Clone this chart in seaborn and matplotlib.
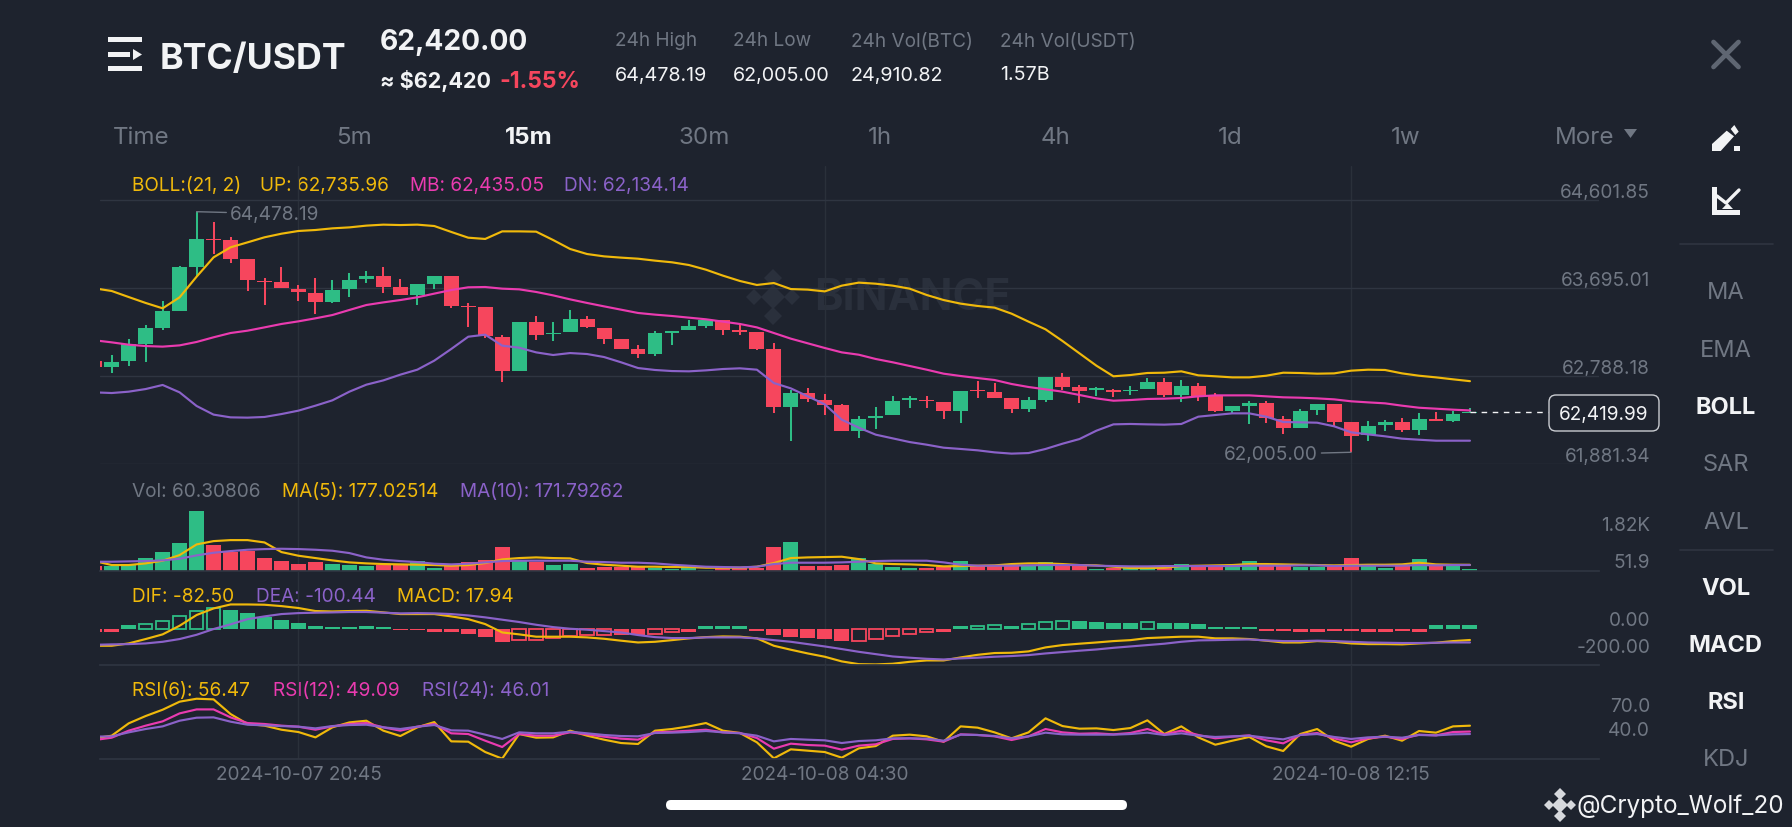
import numpy as np
import pandas as pd
import matplotlib
matplotlib.use("Agg")
import matplotlib.pyplot as plt
import seaborn as sns
from matplotlib.patches import FancyBboxPatch, Polygon, Rectangle

W, H = 1792, 828
BG = "#1e232e"
GRID = "#2f3541"
VGRID = "#2a303a"
GREEN = "#2ebd85"
RED = "#f6465d"
YELLOW = "#f0b90b"
PINK = "#ea3bb0"
PURPLE = "#8b62c9"
GREY = "#707783"
WHITE = "#f2f3f5"
TEXT_SIZE = 13.7

# candles, first one is cut off by the left edge
opens = [62940, 62882, 62943, 63115, 63283, 63457, 63910, 64194, 64191, 63988, 63769, 63752, 63687, 63642,
         63550, 63680, 63783, 63817, 63704, 63622, 63738, 63817, 63509, 63498, 63193, 62844, 63341, 63217,
         63238, 63375, 63286, 63166, 63063, 63019, 63231, 63259, 63306, 63365, 63259, 63245, 63063, 62467,
         62618, 62546, 62491, 62220, 62354, 62385, 62542, 62542, 62522, 62433, 62642, 62625, 62563, 62450,
         62546, 62779, 62673, 62649, 62645, 62631, 62652, 62731, 62597, 62686, 62583, 62433, 62481, 62508,
         62347, 62254, 62436, 62501, 62313, 62179, 62285, 62313, 62230, 62344, 62323, 62405]
highs = [62940, 63005, 63166, 63310, 63564, 63917, 64478, 64376, 64215, 63988, 63793, 63906, 63721, 63797,
         63773, 63851, 63869, 63906, 63783, 63735, 63817, 63817, 63543, 63498, 63211, 63341, 63409, 63341,
         63464, 63409, 63286, 63166, 63108, 63252, 63255, 63368, 63365, 63365, 63334, 63245, 63128, 62648,
         62662, 62604, 62501, 62378, 62467, 62580, 62580, 62583, 62522, 62638, 62734, 62717, 62563, 62573,
         62782, 62816, 62697, 62673, 62655, 62690, 62765, 62772, 62748, 62717, 62614, 62477, 62529, 62529,
         62374, 62450, 62501, 62501, 62313, 62330, 62340, 62357, 62405, 62419, 62426, 62457]
lows = [62885, 62820, 62888, 62936, 63262, 63457, 63821, 64043, 63951, 63666, 63522, 63690, 63564, 63426,
        63536, 63598, 63745, 63646, 63618, 63516, 63687, 63488, 63296, 63180, 62731, 62844, 63156, 63145,
        63238, 63282, 63121, 63067, 62978, 62998, 63108, 63259, 63282, 63214, 63214, 63053, 62409, 62117,
        62525, 62392, 62220, 62148, 62248, 62385, 62463, 62463, 62350, 62306, 62559, 62563, 62412, 62419,
        62522, 62649, 62515, 62580, 62577, 62597, 62652, 62573, 62525, 62532, 62422, 62402, 62296, 62306,
        62189, 62251, 62392, 62278, 62005, 62124, 62227, 62210, 62182, 62323, 62313, 62405]
closes = [62885, 62936, 63115, 63286, 63454, 63906, 64198, 64184, 63992, 63773, 63755, 63694, 63649, 63550,
          63677, 63779, 63817, 63707, 63622, 63735, 63817, 63512, 63495, 63197, 62844, 63341, 63214, 63235,
          63375, 63289, 63169, 63067, 63019, 63228, 63255, 63303, 63365, 63262, 63245, 63063, 62467, 62618,
          62549, 62494, 62220, 62344, 62381, 62532, 62559, 62529, 62433, 62638, 62631, 62566, 62453, 62542,
          62782, 62673, 62638, 62662, 62628, 62649, 62731, 62597, 62686, 62587, 62433, 62477, 62508, 62354,
          62254, 62433, 62501, 62316, 62176, 62278, 62313, 62230, 62344, 62326, 62398, 62420]

boll_up = [63690, 63663, 63601, 63540, 63485, 63598, 63810, 64009, 64112, 64163, 64215, 64252, 64280, 64290,
           64307, 64317, 64335, 64345, 64341, 64345, 64331, 64270, 64211, 64198, 64276, 64276, 64273, 64187,
           64095, 64043, 64019, 64006, 63995, 63975, 63958, 63930, 63882, 63821, 63766, 63725, 63745, 63683,
           63677, 63659, 63718, 63749, 63738, 63718, 63687, 63622, 63570, 63533, 63509, 63492, 63430, 63348,
           63269, 63149, 63022, 62895, 62786, 62799, 62820, 62823, 62837, 62796, 62786, 62775, 62775, 62792,
           62823, 62820, 62813, 62816, 62844, 62854, 62851, 62816, 62792, 62775, 62755, 62736]
boll_mb = [63156, 63135, 63111, 63097, 63091, 63104, 63139, 63187, 63231, 63255, 63289, 63324, 63351, 63382,
           63416, 63468, 63519, 63546, 63570, 63598, 63636, 63673, 63701, 63704, 63687, 63680, 63653, 63618,
           63577, 63540, 63505, 63471, 63437, 63420, 63406, 63389, 63372, 63348, 63324, 63289, 63231, 63173,
           63125, 63077, 63032, 63008, 62964, 62930, 62892, 62854, 62813, 62789, 62768, 62748, 62707, 62676,
           62652, 62628, 62594, 62559, 62535, 62542, 62553, 62556, 62563, 62580, 62590, 62590, 62590, 62580,
           62570, 62566, 62559, 62549, 62529, 62518, 62508, 62484, 62463, 62453, 62443, 62435]
boll_dn = [62621, 62614, 62628, 62655, 62697, 62621, 62481, 62392, 62364, 62361, 62368, 62398, 62433, 62484,
           62539, 62628, 62700, 62744, 62803, 62854, 62947, 63067, 63193, 63214, 63101, 63080, 63032, 63005,
           63025, 63015, 62984, 62930, 62871, 62851, 62840, 62837, 62847, 62861, 62868, 62854, 62717, 62662,
           62580, 62498, 62340, 62258, 62186, 62148, 62110, 62083, 62052, 62039, 62025, 62004, 61991, 61997,
           62039, 62093, 62141, 62227, 62292, 62296, 62292, 62289, 62296, 62371, 62388, 62405, 62405, 62371,
           62316, 62313, 62309, 62272, 62210, 62189, 62169, 62145, 62134, 62124, 62124, 62124]

volumes = [150, 150, 170, 390, 570, 820, 1800, 760, 560, 590, 390, 280, 200, 270, 210, 160, 140, 180, 190, 280,
           90, 170, 250, 320, 700, 330, 260, 180, 190, 90, 120, 120, 120, 80, 60, 80, 20, 80, 70, 90, 720, 860,
           140, 150, 180, 370, 200, 120, 90, 90, 120, 300, 140, 140, 130, 150, 250, 150, 160, 60, 70, 110, 90,
           90, 210, 150, 130, 120, 300, 140, 140, 120, 110, 140, 370, 130, 90, 150, 340, 140, 130, 60]
vol_ma5 = [290, 170, 170, 220, 300, 470, 790, 890, 920, 920, 850, 560, 450, 380, 310, 250, 220, 200, 190, 180,
           170, 150, 170, 230, 340, 380, 400, 380, 370, 230, 180, 150, 120, 120, 110, 110, 90, 90, 90, 120, 230,
           380, 400, 410, 420, 350, 220, 200, 190, 170, 130, 140, 150, 160, 200, 220, 220, 200, 170, 160, 120,
           80, 80, 90, 140, 150, 160, 170, 200, 200, 190, 180, 170, 160, 170, 180, 180, 190, 240, 190, 180, 177]
vol_ma10 = [270, 270, 280, 290, 310, 360, 460, 540, 590, 630, 650, 660, 650, 630, 600, 530, 400, 330, 290, 260,
            210, 190, 210, 250, 290, 300, 300, 300, 300, 270, 260, 240, 240, 220, 180, 150, 120, 110, 100, 120,
            200, 240, 240, 240, 250, 270, 290, 300, 300, 300, 250, 180, 150, 150, 150, 160, 170, 170, 170, 150,
            140, 130, 130, 140, 140, 140, 140, 140, 150, 150, 150, 160, 160, 140, 150, 150, 150, 150, 170, 160,
            170, 172]

macd_hist = [-22, -22, 24, 34, 56, 95, 131, 151, 139, 112, 85, 63, 39, 17, 15, 15, 22, 15, -12, -12, -22, -22,
             -36, -61, -97, -83, -83, -68, -56, -44, -44, -46, -49, -39, -27, -22, 22, 22, 22, -15, -46, -58,
             -70, -75, -87, -87, -75, -51, -39, -22, -22, 19, 22, 29, 17, 32, 49, 53, 53, 46, 44, 44, 51, 39,
             39, 32, 15, 15, 15, -15, -15, -24, -24, -15, -15, -24, -24, -15, -24, 27, 27, 27]
# bars drawn as outlines
hist_hollow = [2, 3, 4, 5, 6, 24, 25, 26, 27, 28, 29, 32, 33, 44, 45, 46, 47, 48, 51, 52, 54, 55, 56, 61]
dif = [-124, -124, -107, -75, -41, 22, 100, 148, 177, 177, 175, 165, 151, 129, 126, 129, 131, 119, 107, 107,
       107, 90, 70, 34, -27, -41, -58, -58, -58, -63, -73, -87, -100, -95, -83, -70, -61, -56, -58, -70, -124,
       -153, -180, -204, -238, -258, -260, -255, -241, -231, -231, -209, -190, -177, -175, -165, -136, -119,
       -109, -100, -90, -83, -68, -63, -58, -58, -70, -70, -75, -87, -100, -100, -90, -95, -107, -112, -112,
       -114, -107, -102, -90, -82]
dea = [-117, -114, -112, -107, -95, -75, -44, -2, 32, 70, 90, 107, 114, 117, 119, 122, 122, 117, 112, 114, 112,
       107, 97, 83, 66, 49, 29, 12, 0, -7, -17, -27, -46, -61, -68, -68, -63, -63, -63, -70, -83, -95, -112,
       -129, -148, -168, -185, -202, -211, -219, -224, -216, -211, -204, -199, -192, -180, -170, -160, -151,
       -139, -129, -119, -109, -95, -85, -83, -80, -78, -85, -90, -90, -87, -90, -95, -100, -102, -104, -104,
       -102, -100, -100]

rsi6 = [40.6, 43.9, 59.4, 68.6, 76.5, 86.6, 90.3, 89.5, 71.1, 58.6, 56.5, 51.4, 48.5, 41.8, 54.4, 60.6, 62.7,
        50.2, 43.5, 54.4, 61.0, 36.8, 36.4, 23.4, 15.1, 46.0, 41.4, 41.8, 50.2, 43.9, 38.9, 34.7, 33.5, 50.2,
        52.3, 55.6, 59.8, 50.2, 47.3, 35.6, 15.5, 26.8, 25.1, 23.4, 16.3, 28.0, 30.9, 43.9, 45.2, 43.1, 36.4,
        55.6, 54.0, 48.1, 40.6, 48.1, 65.7, 56.0, 52.7, 53.1, 51.0, 53.5, 63.2, 46.0, 55.6, 41.8, 32.6, 37.6,
        42.3, 30.6, 24.7, 46.0, 52.3, 37.6, 30.1, 39.8, 43.9, 37.6, 49.8, 47.7, 55.6, 56.47]
rsi12 = [38.5, 41.4, 50.2, 56.5, 61.9, 71.9, 76.9, 76.9, 66.9, 59.8, 58.6, 56.5, 55.2, 51.4, 55.6, 58.6, 59.8,
         54.4, 50.2, 55.2, 58.6, 46.9, 46.0, 37.6, 29.7, 46.0, 43.9, 43.9, 48.1, 45.6, 42.7, 40.2, 38.9, 48.1,
         48.9, 50.2, 51.4, 48.1, 47.3, 41.0, 27.6, 33.9, 32.2, 31.4, 26.4, 31.4, 33.1, 39.8, 40.6, 39.3, 36.4,
         45.6, 44.8, 43.1, 38.5, 43.1, 52.3, 48.1, 46.4, 46.9, 45.6, 47.3, 52.3, 45.6, 50.2, 44.8, 40.6, 42.7,
         44.3, 38.1, 34.3, 44.8, 47.3, 40.6, 35.6, 40.6, 42.7, 39.8, 45.2, 44.3, 48.5, 49.09]
rsi24 = [42.7, 43.1, 48.1, 52.3, 55.6, 62.7, 66.5, 66.9, 61.5, 57.7, 56.9, 56.0, 55.2, 53.1, 56.0, 57.3, 57.7,
         54.4, 52.3, 55.2, 57.3, 50.6, 50.2, 45.2, 39.8, 48.1, 46.9, 46.9, 48.9, 46.9, 44.8, 43.5, 43.1, 47.3,
         47.7, 48.5, 49.8, 48.1, 46.9, 43.9, 36.8, 39.8, 38.9, 38.1, 34.7, 37.2, 38.1, 40.6, 40.6, 40.2, 37.6,
         45.2, 44.8, 43.5, 40.6, 43.1, 47.7, 45.6, 45.2, 45.2, 45.2, 46.0, 47.7, 44.8, 46.9, 43.9, 42.3, 43.1,
         43.9, 41.4, 39.3, 44.8, 46.0, 42.3, 39.8, 41.8, 42.7, 41.4, 44.8, 44.3, 45.6, 46.01]

price_ticks = [64601.85, 63695.01, 62788.18, 61881.34]
date_ticks = [11, 42, 73]
date_labels = ["2024-10-07 20:45", "2024-10-08 04:30", "2024-10-08 12:15"]
intervals = ["5m", "15m", "30m", "1h", "4h", "1d", "1w"]
indicators = ["MA", "EMA", "BOLL", "SAR", "AVL", "VOL", "MACD", "RSI", "KDJ"]

sns.set_theme(style="dark", rc={
    "figure.facecolor": BG,
    "axes.facecolor": "none",
    "axes.edgecolor": GRID,
    "grid.color": GRID,
    "text.color": WHITE,
})
plt.rcParams["font.family"] = ["Inter", "DejaVu Sans"]

fig = plt.figure(figsize=(W / 100, H / 100), dpi=100)

# overlay in pixel coordinates for the app chrome, sits behind the panels
ui = fig.add_axes([0, 0, 1, 1], zorder=0)
ui.set_xlim(0, W)
ui.set_ylim(H, 0)
ui.axis("off")


def label(x, y, s, color=GREY, size=TEXT_SIZE, ha="left", weight="normal"):
    ui.text(x, y + 2.5, s, color=color, fontsize=size, ha=ha, va="center", fontweight=weight)


def panel(top, bottom):
    ax = fig.add_axes([100 / W, 1 - bottom / H, 1499 / W, (bottom - top) / H], zorder=1)
    ax.set_xlim(-0.689, 87.6)
    ax.set_xticks(date_ticks)
    ax.set_xticklabels([])
    ax.grid(True, axis="x", color=VGRID, linewidth=1)
    ax.grid(True, axis="y", color=GRID, linewidth=1)
    ax.tick_params(length=0, labelleft=False)
    for side in ("top", "left", "right"):
        ax.spines[side].set_visible(False)
    ax.spines["bottom"].set_color(GRID)
    ax.set_axisbelow(True)
    return ax


def draw_line(ax, x, y, color):
    sns.lineplot(x=x, y=y, color=color, linewidth=1.55, estimator=None, sort=False, legend=False, ax=ax)
    ax.set_xlabel("")
    ax.set_ylabel("")


df = pd.DataFrame({"open": opens, "high": highs, "low": lows, "close": closes})
df["x"] = np.arange(-1, len(df) - 1)
df["up"] = df["close"] >= df["open"]
df["color"] = np.where(df["up"], GREEN, RED)
xs = df["x"].to_numpy()

# price panel
ax_price = panel(167, 465.3)
ax_price.vlines(xs, df["low"], df["high"], colors=df["color"], linewidth=1.45, zorder=2)
ax_price.bar(xs, (df["close"] - df["open"]).abs(), bottom=df[["open", "close"]].min(axis=1),
             width=0.88, color=df["color"], linewidth=0, zorder=2)
draw_line(ax_price, xs, boll_up, YELLOW)
draw_line(ax_price, xs, boll_mb, PINK)
draw_line(ax_price, xs, boll_dn, PURPLE)
ax_price.set_ylim(61881.34, 64948)
ax_price.set_yticks(price_ticks)
ax_price.annotate("64,478.19", xy=(5, 64478.19), xytext=(33, 0), textcoords="offset pixels",
                  color=GREY, fontsize=TEXT_SIZE, va="center_baseline", ha="left",
                  arrowprops=dict(arrowstyle="-", color=GREY, linewidth=1, shrinkA=0, shrinkB=0))
ax_price.annotate("62,005.00", xy=(73, 62005), xytext=(-33, 0), textcoords="offset pixels",
                  color=GREY, fontsize=TEXT_SIZE, va="center_baseline", ha="right",
                  arrowprops=dict(arrowstyle="-", color=GREY, linewidth=1, shrinkA=0, shrinkB=0))
ax_price.plot([80, 84.6], [62420, 62420], color=WHITE, linewidth=1, linestyle=(0, (4, 4)))
ax_price.spines["bottom"].set_visible(False)

# volume panel
ax_vol = panel(465.3, 571.7)
ax_vol.bar(xs, volumes, width=0.88, color=df["color"], linewidth=0, zorder=2)
draw_line(ax_vol, xs, vol_ma5, YELLOW)
draw_line(ax_vol, xs, vol_ma10, PURPLE)
ax_vol.set_ylim(0, 3200)
ax_vol.set_yticks([])

# macd panel
ax_macd = panel(571.7, 665.7)
hist = np.array(macd_hist)
hollow = np.isin(xs, hist_hollow)
hist_colors = np.where(hist >= 0, GREEN, RED)
ax_macd.bar(xs[~hollow], hist[~hollow], width=0.88, color=hist_colors[~hollow], linewidth=0, zorder=2)
ax_macd.bar(xs[hollow], hist[hollow], width=0.8, facecolor="none", edgecolor=hist_colors[hollow],
            linewidth=1.3, zorder=2)
draw_line(ax_macd, xs, dif, YELLOW)
draw_line(ax_macd, xs, dea, PURPLE)
ax_macd.set_ylim(-262, 423)
ax_macd.set_yticks([])

# rsi panel
ax_rsi = panel(665.7, 760)
draw_line(ax_rsi, xs, rsi6, YELLOW)
draw_line(ax_rsi, xs, rsi12, PINK)
draw_line(ax_rsi, xs, rsi24, PURPLE)
ax_rsi.set_ylim(14.66, 133)
ax_rsi.set_yticks([])
ax_rsi.set_xticklabels(date_labels, color=GREY, fontsize=TEXT_SIZE)
ax_rsi.tick_params(axis="x", pad=4)

# right hand axis labels
for tick, y in zip(price_ticks, [191, 279, 367, 455]):
    label(1650, y, f"{tick:,.2f}", ha="right")
for text, y in [("1.82K", 524), ("51.9", 560.7), ("0.00", 619), ("-200.00", 645.7), ("70.0", 704.7), ("40.0", 729)]:
    label(1650, y, text, ha="right")

# current price tag
ui.add_patch(FancyBboxPatch((1549, 396), 110, 36, boxstyle="round,pad=0,rounding_size=7",
                            facecolor=BG, edgecolor="#c9ccd1", linewidth=1))
label(1604, 413, "62,419.99", color=WHITE, ha="center")

# indicator legends
for x, y, text, color in [
    (132, 183, "BOLL:(21, 2)", YELLOW), (260, 183, "UP: 62,735.96", YELLOW),
    (410, 183, "MB: 62,435.05", PINK), (564, 183, "DN: 62,134.14", PURPLE),
    (132, 490, "Vol: 60.30806", GREY), (282, 490, "MA(5): 177.02514", YELLOW),
    (460, 490, "MA(10): 171.79262", PURPLE),
    (132, 595, "DIF: -82.50", YELLOW), (256, 595, "DEA: -100.44", PURPLE), (397, 595, "MACD: 17.94", YELLOW),
    (132, 689, "RSI(6): 56.47", YELLOW), (273, 689, "RSI(12): 49.09", PINK), (422, 689, "RSI(24): 46.01", PURPLE),
]:
    label(x, y, text, color=color)

# header
for x, y, w, h in [(108, 38, 34, 5), (108, 53, 22, 5), (108, 67, 34, 5)]:
    ui.add_patch(Rectangle((x, y), w, h, color=WHITE, linewidth=0))
ui.add_patch(Polygon([(133, 50), (142, 55.5), (133, 61)], color=WHITE, linewidth=0))
label(160, 57, "BTC/USDT", color=WHITE, size=25.7, weight="bold")
label(380, 40, "62,420.00", color=WHITE, size=20.3, weight="bold")
label(380, 79, "≈ $62,420", color=WHITE, size=15.5, weight="bold")
label(499, 79, "-1.55%", color=RED, size=16.5, weight="bold")
for x, top, val in [(615, "24h High", "64,478.19"), (733, "24h Low", "62,005.00"),
                    (851, "24h Vol(BTC)", "24,910.82"), (1000, "24h Vol(USDT)", "1.57B")]:
    label(x, 39, top, size=13.7)
    label(x, 73, val, color=WHITE, size=14.2)
ui.plot([1713.5, 1738.5], [43, 68], color="#5f6672", linewidth=3.4)
ui.plot([1713.5, 1738.5], [68, 43], color="#5f6672", linewidth=3.4)

# interval row
label(113, 135, "Time", size=17.4)
for cx, name in zip([354, 529, 704, 880, 1055, 1230, 1406], intervals):
    if name == "15m":
        label(cx, 135, name, color=WHITE, size=17.4, ha="center", weight="bold")
    else:
        label(cx, 135, name, size=17.4, ha="center")
label(1555, 135, "More", size=17.4)
ui.add_patch(Polygon([(1624, 130), (1637, 130), (1630.5, 139)], color=GREY, linewidth=0))

# side menu
for name, y in zip(indicators, [291, 349, 406, 463, 521, 587, 644, 701, 758]):
    active = name in ("BOLL", "VOL", "MACD", "RSI")
    label(1726, y, name, color=WHITE if active else GREY, size=17, ha="center", weight="bold" if active else "normal")
for y in (245, 551):
    ui.plot([1680, 1773], [y, y], color=GRID, linewidth=1.2)
ui.add_patch(Polygon([(1712, 152), (1712, 145), (1726.7, 131.7), (1734, 137.3), (1720.7, 152)], color=WHITE, linewidth=0))
ui.add_patch(Polygon([(1730.7, 130), (1734.3, 126), (1738.7, 132.7), (1735.3, 136)], color=WHITE, linewidth=0))
ui.add_patch(Rectangle((1734.3, 147.3), 6, 4.7, color=WHITE, linewidth=0))
ui.add_patch(Rectangle((1712, 187.7), 4.7, 28, color=WHITE, linewidth=0))
ui.add_patch(Rectangle((1712, 211.3), 28.3, 4.4, color=WHITE, linewidth=0))
ui.plot([1717, 1726, 1739], [197, 204, 191], color=WHITE, linewidth=2.4)
ui.add_patch(Polygon([(1722, 210), (1733, 210), (1727.5, 204)], color=WHITE, linewidth=0))

# background logo text
label(912, 296, "BINANCE", color="#2a303c", size=31, ha="center", weight="bold")
for cx, cy, r in [(773, 279, 9), (773, 298, 12), (773, 317, 9), (754, 298, 8), (792, 298, 8)]:
    ui.add_patch(Polygon([(cx - r, cy), (cx, cy - r), (cx + r, cy), (cx, cy + r)], color="#2a303c", linewidth=0))

# home bar and watermark
ui.add_patch(FancyBboxPatch((666, 801), 461, 10, boxstyle="round,pad=0,rounding_size=5",
                            facecolor="white", edgecolor="none"))
label(1577, 804, "@Crypto_Wolf_20", color=WHITE, size=17.5)
for cx, cy, r in [(1560, 795, 6), (1560, 806, 8), (1560, 817, 6), (1549, 806, 5), (1571, 806, 5)]:
    ui.add_patch(Polygon([(cx - r, cy), (cx, cy - r), (cx + r, cy), (cx, cy + r)], color="#d6d8dc", linewidth=0))

fig.savefig("out.png", dpi=100, facecolor=BG)
